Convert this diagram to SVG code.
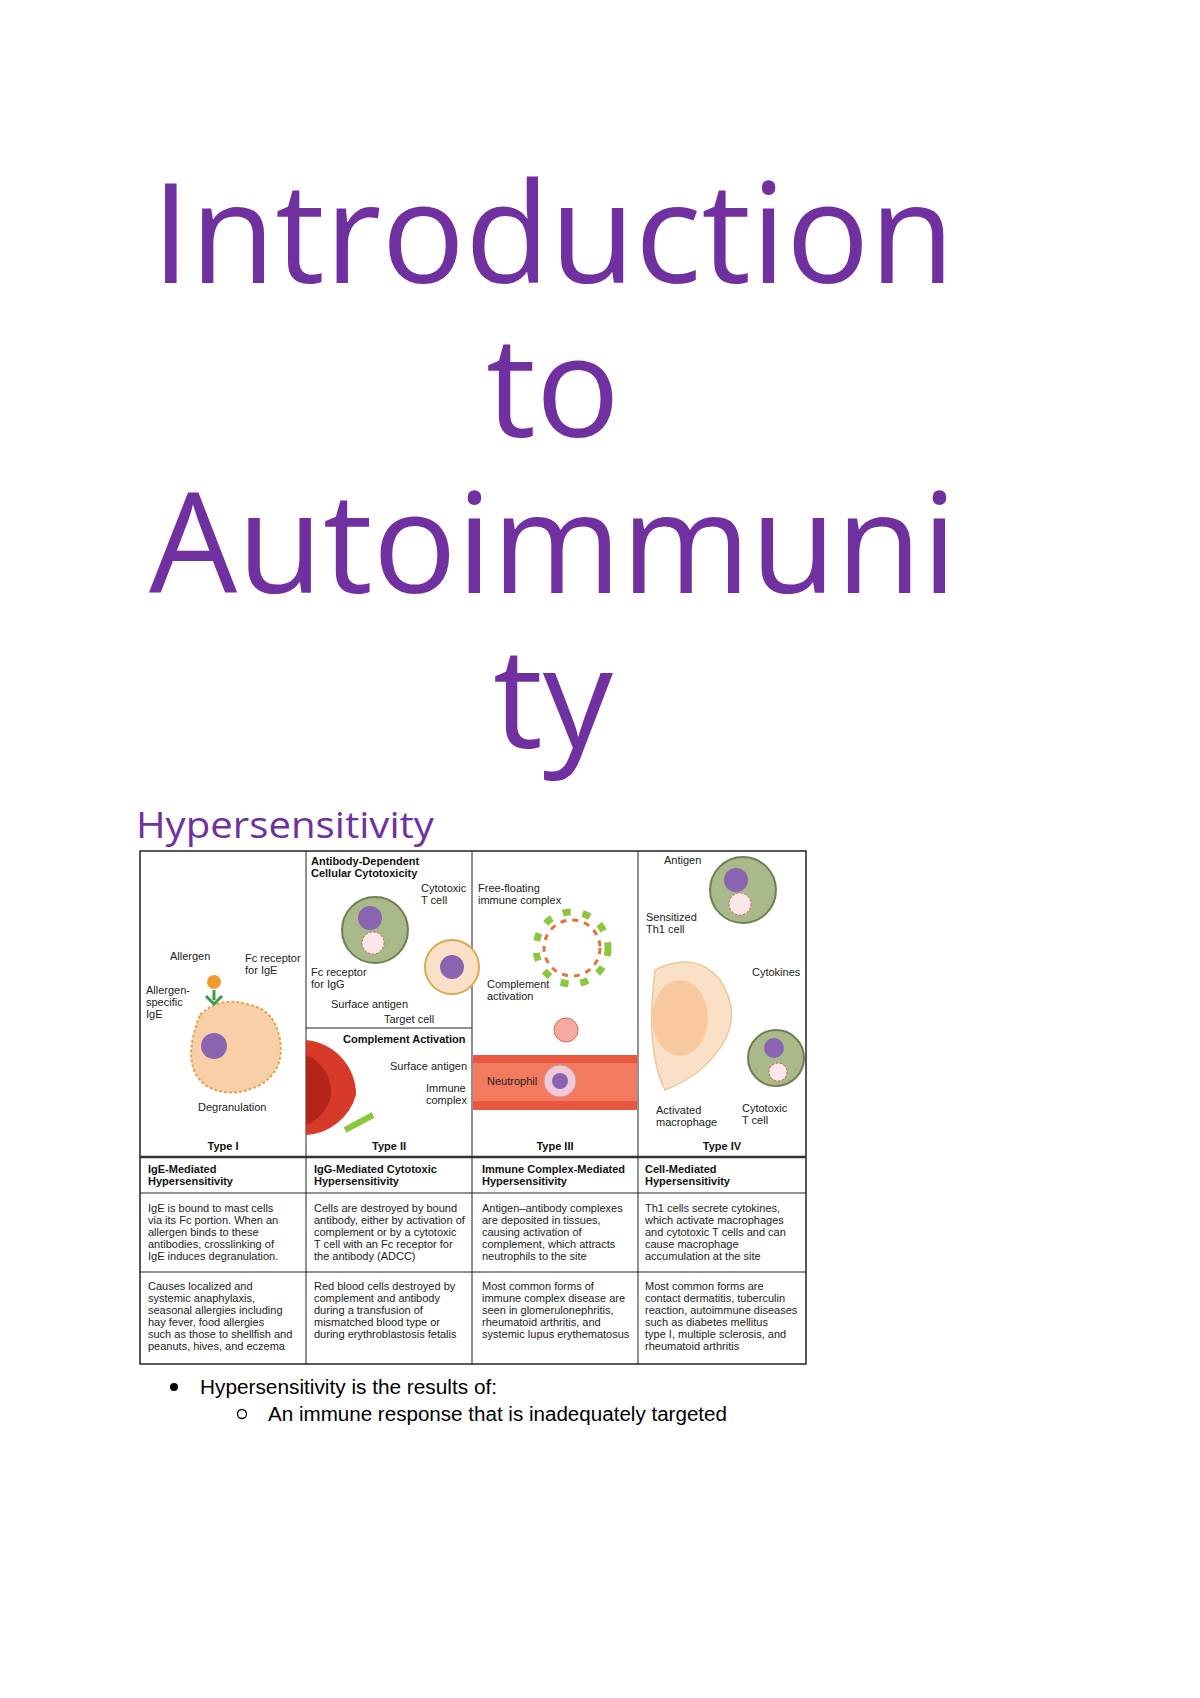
<svg xmlns="http://www.w3.org/2000/svg" width="1200" height="1698" viewBox="0 0 1200 1698">
<style>
.t{font-family:"Open Sans","DejaVu Sans",sans-serif;fill:#7030A0}
.s{font-family:"Liberation Sans",Arial,sans-serif;font-size:11px;fill:#222}
.b{font-family:"Liberation Sans",Arial,sans-serif;font-size:11px;font-weight:bold;fill:#111}
.c{font-family:"Liberation Sans",Arial,sans-serif;font-size:20px;fill:#000}
.ln{stroke:#222;stroke-width:1;fill:none}
.g{fill:#aab98a;stroke:#6f7f55;stroke-width:2}
.n{fill:#8a64b0}
.v{fill:#fbe7ea;stroke:#c33;stroke-width:0.8;stroke-dasharray:2 2}
.m{fill:#f8cfa6;stroke:#d9a94f;stroke-width:2;stroke-dasharray:3 2}
</style>
<rect width="1200" height="1698" fill="#fff"/>
<g id="title">
<text class="t" x="553" y="283" font-size="140" text-anchor="middle" textLength="803" lengthAdjust="spacingAndGlyphs">Introduction</text>
<text class="t" x="553" y="437" font-size="140" text-anchor="middle">to</text>
<text class="t" x="553" y="593" font-size="140" text-anchor="middle" textLength="808" lengthAdjust="spacingAndGlyphs">Autoimmuni</text>
<text class="t" x="553" y="748" font-size="140" text-anchor="middle">ty</text>
<text class="t" x="136" y="838" font-size="36" textLength="298" lengthAdjust="spacingAndGlyphs">Hypersensitivity</text>
</g>
<g id="table">
<rect x="140" y="851" width="666" height="513" fill="#fff" stroke="#222" stroke-width="1.5"/>
<path class="ln" d="M306 851V1364M472 851V1364M638 851V1364M140 1193H806M140 1272H806M306 1028H472"/>
<path d="M140 1157H806" stroke="#333" stroke-width="2.5"/>
</g>
<g id="type1">
<path class="m" d="M200 1015 q20 -20 50 -10 q25 5 30 35 q5 30 -20 45 q-30 15 -55 0 q-25 -20 -5 -70z"/>
<circle cx="214" cy="1046" r="13" class="n"/>
<circle cx="214" cy="982" r="7" fill="#f39a2a"/>
<path d="M214 990 v10 M206 996 l8 8 8 -8" stroke="#3a9a4a" stroke-width="3" fill="none"/>
<text class="s" x="170" y="960">Allergen</text>
<text class="s" x="245" y="962">Fc receptor</text><text class="s" x="245" y="974">for IgE</text>
<text class="s" x="146" y="994">Allergen-</text><text class="s" x="146" y="1006">specific</text><text class="s" x="146" y="1018">IgE</text>
<text class="s" x="198" y="1111">Degranulation</text>
<text class="b" x="223" y="1150" text-anchor="middle">Type I</text>
</g>
<g id="type2">
<text class="b" x="311" y="865">Antibody-Dependent</text><text class="b" x="311" y="877">Cellular Cytotoxicity</text>
<circle cx="375" cy="930" r="33" class="g"/>
<circle cx="370" cy="918" r="12" class="n"/><circle cx="373" cy="943" r="11" class="v"/>
<circle cx="452" cy="967" r="27" fill="#fbe0c8" stroke="#d9a94f" stroke-width="2"/>
<circle cx="452" cy="967" r="12" class="n"/>
<text class="s" x="421" y="892">Cytotoxic</text><text class="s" x="421" y="904">T cell</text>
<text class="s" x="311" y="976">Fc receptor</text><text class="s" x="311" y="988">for IgG</text>
<text class="s" x="331" y="1008">Surface antigen</text>
<text class="s" x="384" y="1023">Target cell</text>
<text class="b" x="343" y="1043">Complement Activation</text>
<path d="M306 1040 a55 55 0 0 1 50 55 a55 55 0 0 1 -50 40z" fill="#d83a2a"/>
<path d="M306 1055 a40 40 0 0 1 25 40 a40 40 0 0 1 -25 30z" fill="#b42518"/>
<path d="M345 1130 l28 -15" stroke="#8cc63f" stroke-width="6"/>
<text class="s" x="390" y="1070">Surface antigen</text>
<text class="s" x="426" y="1092">Immune</text><text class="s" x="426" y="1104">complex</text>
<text class="b" x="389" y="1150" text-anchor="middle">Type II</text>
</g>
<g id="type3">
<text class="s" x="478" y="892">Free-floating</text><text class="s" x="478" y="904">immune complex</text>
<circle cx="572" cy="948" r="28" fill="none" stroke="#e8703a" stroke-width="3" stroke-dasharray="6 6"/>
<circle cx="572" cy="948" r="36" fill="none" stroke="#8cc63f" stroke-width="7" stroke-dasharray="8 12"/>
<text class="s" x="487" y="988">Complement</text><text class="s" x="487" y="1000">activation</text>
<rect x="473" y="1055" width="164" height="55" fill="#e8573e"/>
<rect x="473" y="1063" width="164" height="38" fill="#f27a5e"/>
<circle cx="566" cy="1030" r="12" fill="#f6a9a0" stroke="#d66" stroke-width="1"/>
<circle cx="560" cy="1081" r="16" fill="#f0c8d8" stroke="#c9a" stroke-width="1"/>
<circle cx="560" cy="1081" r="8" class="n"/>
<text class="s" x="487" y="1085">Neutrophil</text>
<text class="b" x="555" y="1150" text-anchor="middle">Type III</text>
</g>
<g id="type4">
<text class="s" x="664" y="864">Antigen</text>
<circle cx="743" cy="890" r="33" class="g"/>
<circle cx="736" cy="880" r="12" class="n"/><circle cx="740" cy="904" r="11" class="v"/>
<text class="s" x="646" y="921">Sensitized</text><text class="s" x="646" y="933">Th1 cell</text>
<path d="M655 970 q40 -20 65 10 q20 30 5 60 q-20 35 -60 50 q-20 -40 -10 -120z" fill="#fbe0c8" stroke="#e8c89a" stroke-width="1.5"/>
<ellipse cx="680" cy="1018" rx="28" ry="38" fill="#f8c99e"/>
<text class="s" x="752" y="976">Cytokines</text>
<circle cx="776" cy="1058" r="28" class="g"/>
<circle cx="774" cy="1048" r="10" class="n"/><circle cx="778" cy="1072" r="9" class="v"/>
<text class="s" x="656" y="1114">Activated</text><text class="s" x="656" y="1126">macrophage</text>
<text class="s" x="742" y="1112">Cytotoxic</text><text class="s" x="742" y="1124">T cell</text>
<text class="b" x="722" y="1150" text-anchor="middle">Type IV</text>
</g>
<g id="rows">
<text class="b" x="148" y="1173">IgE-Mediated</text><text class="b" x="148" y="1185">Hypersensitivity</text>
<text class="b" x="314" y="1173">IgG-Mediated Cytotoxic</text><text class="b" x="314" y="1185">Hypersensitivity</text>
<text class="b" x="482" y="1173">Immune Complex-Mediated</text><text class="b" x="482" y="1185">Hypersensitivity</text>
<text class="b" x="645" y="1173">Cell-Mediated</text><text class="b" x="645" y="1185">Hypersensitivity</text>
<text class="s" x="148" y="1212">IgE is bound to mast cells</text><text class="s" x="148" y="1224">via its Fc portion. When an</text><text class="s" x="148" y="1236">allergen binds to these</text><text class="s" x="148" y="1248">antibodies, crosslinking of</text><text class="s" x="148" y="1260">IgE induces degranulation.</text>
<text class="s" x="314" y="1212">Cells are destroyed by bound</text><text class="s" x="314" y="1224">antibody, either by activation of</text><text class="s" x="314" y="1236">complement or by a cytotoxic</text><text class="s" x="314" y="1248">T cell with an Fc receptor for</text><text class="s" x="314" y="1260">the antibody (ADCC)</text>
<text class="s" x="482" y="1212">Antigen–antibody complexes</text><text class="s" x="482" y="1224">are deposited in tissues,</text><text class="s" x="482" y="1236">causing activation of</text><text class="s" x="482" y="1248">complement, which attracts</text><text class="s" x="482" y="1260">neutrophils to the site</text>
<text class="s" x="645" y="1212">Th1 cells secrete cytokines,</text><text class="s" x="645" y="1224">which activate macrophages</text><text class="s" x="645" y="1236">and cytotoxic T cells and can</text><text class="s" x="645" y="1248">cause macrophage</text><text class="s" x="645" y="1260">accumulation at the site</text>
<text class="s" x="148" y="1290">Causes localized and</text><text class="s" x="148" y="1302">systemic anaphylaxis,</text><text class="s" x="148" y="1314">seasonal allergies including</text><text class="s" x="148" y="1326">hay fever, food allergies</text><text class="s" x="148" y="1338">such as those to shellfish and</text><text class="s" x="148" y="1350">peanuts, hives, and eczema</text>
<text class="s" x="314" y="1290">Red blood cells destroyed by</text><text class="s" x="314" y="1302">complement and antibody</text><text class="s" x="314" y="1314">during a transfusion of</text><text class="s" x="314" y="1326">mismatched blood type or</text><text class="s" x="314" y="1338">during erythroblastosis fetalis</text>
<text class="s" x="482" y="1290">Most common forms of</text><text class="s" x="482" y="1302">immune complex disease are</text><text class="s" x="482" y="1314">seen in glomerulonephritis,</text><text class="s" x="482" y="1326">rheumatoid arthritis, and</text><text class="s" x="482" y="1338">systemic lupus erythematosus</text>
<text class="s" x="645" y="1290">Most common forms are</text><text class="s" x="645" y="1302">contact dermatitis, tuberculin</text><text class="s" x="645" y="1314">reaction, autoimmune diseases</text><text class="s" x="645" y="1326">such as diabetes mellitus</text><text class="s" x="645" y="1338">type I, multiple sclerosis, and</text><text class="s" x="645" y="1350">rheumatoid arthritis</text>
</g>
<g id="bullets">
<circle cx="174" cy="1387" r="4" fill="#000"/>
<text class="c" x="200" y="1394" textLength="297" lengthAdjust="spacingAndGlyphs">Hypersensitivity is the results of:</text>
<circle cx="242" cy="1414" r="4.5" fill="none" stroke="#000" stroke-width="1.3"/>
<text class="c" x="268" y="1421" textLength="459" lengthAdjust="spacingAndGlyphs">An immune response that is inadequately targeted</text>
</g>
</svg>
